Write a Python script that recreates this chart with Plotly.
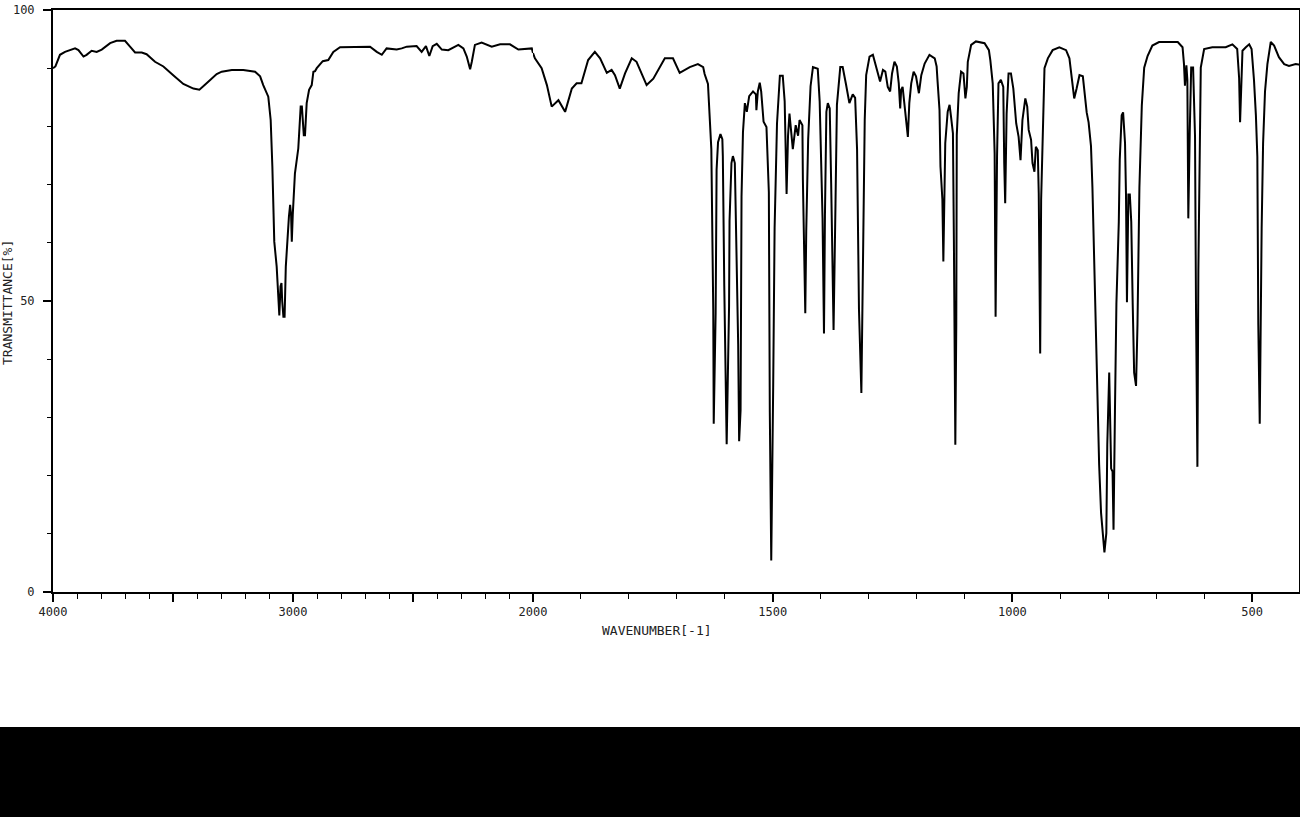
import plotly.graph_objects as go

# IR spectrum (wavenumber in cm-1, transmittance in %)
wavenumber = [
    4000, 3990, 3971, 3950, 3908, 3894, 3873, 3860, 3839, 3818, 3797, 3762, 3735, 3700,
    3679, 3658, 3630, 3610, 3575, 3540, 3499, 3457, 3415, 3390, 3360, 3318, 3297, 3255,
    3207, 3158, 3137, 3124, 3103, 3093, 3086, 3078, 3068, 3061, 3057, 3052, 3048, 3045,
    3040, 3035, 3030, 3017, 3012, 3008, 3005, 3001, 2992, 2978, 2968, 2963, 2955, 2950,
    2943, 2933, 2922, 2915, 2908, 2901, 2876, 2853, 2832, 2804, 2679, 2651, 2630, 2610,
    2568, 2547, 2526, 2485, 2464, 2446, 2432, 2418, 2401, 2380, 2353, 2311, 2290, 2276,
    2262, 2255, 2242, 2214, 2172, 2137, 2096, 2061, 2005, 2000,
    1996, 1982, 1971, 1961, 1947, 1933, 1919, 1909, 1899, 1885, 1871, 1860, 1846, 1836,
    1829, 1819, 1808, 1794, 1784, 1763, 1749, 1725, 1708, 1694, 1673, 1656, 1645, 1642,
    1635, 1631, 1628, 1624, 1623, 1619, 1617, 1614, 1609, 1605, 1604, 1601, 1596, 1591,
    1590, 1586, 1583, 1579, 1576, 1572, 1570, 1567, 1565, 1562, 1558, 1554, 1549, 1541,
    1535, 1534, 1531, 1527, 1524, 1519, 1513, 1508, 1506, 1503, 1499, 1496, 1491, 1485,
    1479, 1475, 1471, 1468, 1465, 1458, 1452, 1447, 1444, 1438, 1437, 1435, 1432, 1430,
    1426, 1421, 1416, 1406, 1402, 1396, 1393, 1391, 1388, 1385, 1381, 1378, 1373, 1369,
    1366, 1359, 1354, 1347, 1340, 1333, 1328, 1324, 1320, 1315, 1312, 1308, 1305, 1298,
    1291, 1285, 1281, 1276, 1270, 1265, 1260, 1255, 1251, 1246, 1241, 1237, 1234, 1232,
    1229, 1225, 1221, 1218, 1215, 1211, 1206, 1201, 1195, 1190, 1183, 1173, 1162, 1158,
    1156, 1152, 1150, 1146, 1144, 1140, 1135, 1131, 1128, 1124, 1122, 1119, 1117, 1116,
    1112, 1107, 1102, 1098, 1095, 1093, 1086, 1076, 1058, 1049, 1046, 1041, 1037, 1035,
    1032, 1029, 1024, 1019, 1017, 1015, 1012, 1008, 1003, 998, 992, 987, 983, 979,
    973, 969, 966, 961, 958, 954, 951, 947, 945, 942, 940, 937, 933, 926,
    916, 902, 888, 881, 874, 871, 866, 860, 853, 850, 845, 841, 836, 833,
    829, 826, 822, 819, 815, 810, 808, 804, 802, 798, 794, 791, 789, 786,
    783, 778, 776, 772, 769, 765, 763, 761, 758, 755, 752, 749, 746, 742,
    739, 735, 730, 725, 718, 708, 694, 673, 655, 645, 642, 640, 637, 635,
    633, 630, 627, 623, 619, 617, 614, 612, 609, 607, 600, 583, 555, 541,
    531, 527, 525, 522, 520, 513, 506, 501, 496, 492, 489, 487, 484, 480,
    477, 473, 468, 461, 454, 444, 433, 423, 409, 400,
]

transmittance = [
    90.0, 90.3, 92.3, 92.8, 93.4, 93.1, 92.0, 92.3, 93.0, 92.8, 93.2, 94.3, 94.7, 94.7,
    93.7, 92.7, 92.7, 92.4, 91.1, 90.3, 88.8, 87.3, 86.5, 86.3, 87.4, 89.0, 89.4, 89.7,
    89.7, 89.4, 88.6, 87.1, 85.1, 81.1, 73.1, 60.2, 55.9, 50.7, 47.5, 52.5, 53.1, 50.0,
    47.3, 47.3, 55.9, 64.5, 66.5, 64.8, 60.2, 64.8, 71.9, 76.2, 83.4, 83.4, 78.5, 78.5,
    84.0, 86.3, 87.1, 89.4, 89.5, 90.0, 91.2, 91.4, 92.8, 93.6, 93.7, 92.8, 92.3, 93.4,
    93.2, 93.4, 93.7, 93.8, 92.8, 93.8, 92.1, 93.8, 94.2, 93.2, 93.1, 94.0, 93.4, 92.0,
    89.8, 91.1, 94.0, 94.4, 93.7, 94.1, 94.1, 93.2, 93.4, 92.6,
    91.7, 90.0, 87.1, 83.4, 84.5, 82.5, 86.5, 87.4, 87.4, 91.4, 92.8, 91.7, 89.2, 89.7,
    88.8, 86.5, 89.1, 91.7, 91.1, 87.1, 88.2, 91.7, 91.7, 89.2, 90.2, 90.7, 90.2, 89.0,
    87.3, 80.9, 76.1, 48.5, 28.9, 47.9, 72.6, 77.3, 78.7, 77.8, 74.9, 52.6, 25.4, 49.1,
    63.8, 73.7, 74.9, 73.7, 60.8, 42.6, 25.9, 31.2, 67.9, 79.0, 84.0, 82.5, 85.2, 86.0,
    85.5, 82.8, 86.0, 87.5, 86.0, 80.8, 79.9, 68.7, 30.9, 5.4, 35.1, 62.6, 80.5, 88.7,
    88.7, 84.3, 68.4, 78.4, 82.2, 76.1, 80.2, 78.4, 81.1, 80.2, 70.8, 60.5, 47.9, 62.0,
    77.8, 86.9, 90.2, 89.9, 84.3, 64.3, 44.4, 64.6, 82.5, 84.0, 83.1, 70.2, 45.0, 66.7,
    83.7, 90.2, 90.2, 87.2, 84.0, 85.5, 84.9, 76.1, 48.5, 34.2, 58.8, 81.1, 88.8, 92.0,
    92.3, 90.5, 89.1, 87.7, 89.7, 89.4, 86.8, 86.0, 89.1, 91.1, 90.3, 87.4, 83.1, 86.3,
    86.8, 84.0, 80.5, 78.2, 84.0, 87.4, 89.4, 88.6, 85.7, 88.8, 90.8, 92.3, 91.7, 90.3,
    87.7, 82.8, 73.1, 67.4, 56.8, 77.1, 82.5, 83.7, 81.7, 78.8, 60.5, 25.3, 46.2, 78.5,
    85.7, 89.4, 89.1, 84.8, 86.8, 91.1, 94.0, 94.6, 94.3, 93.1, 91.4, 87.4, 75.4, 47.3,
    74.8, 87.4, 88.0, 86.8, 73.7, 66.8, 82.2, 89.1, 89.1, 86.5, 80.5, 78.2, 74.2, 81.1,
    84.8, 83.4, 79.4, 77.7, 73.7, 72.2, 76.5, 75.9, 68.5, 41.0, 67.4, 78.8, 90.0, 91.7,
    93.1, 93.6, 93.1, 91.7, 87.3, 84.8, 86.5, 88.8, 88.6, 86.3, 82.4, 80.7, 76.6, 69.5,
    56.0, 41.9, 33.4, 21.9, 13.6, 9.5, 6.8, 10.1, 25.4, 37.7, 21.2, 20.7, 10.7, 31.1,
    49.5, 63.6, 74.3, 81.9, 82.4, 77.1, 68.3, 49.8, 68.3, 68.3, 63.6, 49.5, 37.7, 35.4,
    46.0, 69.5, 83.6, 90.1, 92.1, 93.9, 94.5, 94.5, 94.5, 93.6, 90.7, 87.0, 90.5, 88.0,
    64.2, 78.9, 90.1, 90.1, 78.3, 49.5, 21.5, 55.4, 77.1, 90.1, 93.3, 93.6, 93.6, 94.1,
    93.3, 88.3, 80.7, 88.3, 93.0, 93.6, 94.1, 93.3, 88.0, 81.9, 74.8, 46.0, 28.9, 62.4,
    77.1, 86.0, 90.7, 94.5, 93.9, 91.9, 90.7, 90.4, 90.7, 90.6,
]

# Axis segments: the x scale doubles below 2000 cm-1
left_range = [4000, 2000]
right_range = [2000, 400]
left_tickvals = [4000, 3500, 3000, 2500]
left_ticktext = ["4000", "", "3000", ""]
right_tickvals = [2000, 1500, 1000, 500]
right_ticktext = ["2000", "1500", "1000", "500"]
y_tickvals = [0, 50, 100]
y_ticktext = ["0", "50", "100"]
x_title = "WAVENUMBER[-1]"
y_title = "TRANSMITTANCE[%]"

left_x = [w for w in wavenumber if w >= 2000]
left_y = [t for w, t in zip(wavenumber, transmittance) if w >= 2000]
right_x = [w for w in wavenumber if w <= 2000]
right_y = [t for w, t in zip(wavenumber, transmittance) if w <= 2000]

FONT = "DejaVu Sans Mono"
split = 480 / 1247

fig = go.Figure()
line_style = dict(color="black", width=2)
fig.add_trace(go.Scatter(x=left_x, y=left_y, mode="lines", line=line_style,
                         xaxis="x", yaxis="y", showlegend=False, hoverinfo="x+y"))
fig.add_trace(go.Scatter(x=right_x, y=right_y, mode="lines", line=line_style,
                         xaxis="x2", yaxis="y", showlegend=False, hoverinfo="x+y"))

axis_common = dict(
    showline=True, linecolor="black", linewidth=2, mirror=True,
    showgrid=False, zeroline=False, ticks="outside", ticklen=8, tickwidth=1.5,
    tickcolor="black", tickfont=dict(family=FONT, size=12, color="#222"),
    minor=dict(tickmode="linear", tick0=0, dtick=100, ticks="outside", ticklen=5,
               tickwidth=1.2, tickcolor="black", showgrid=False),
)

fig.update_layout(
    width=1300, height=817,
    margin=dict(l=53, r=0, t=10, b=225),
    paper_bgcolor="white", plot_bgcolor="white",
    xaxis=dict(domain=[0, split], range=left_range, tickmode="array",
               tickvals=left_tickvals, ticktext=left_ticktext, anchor="y",
               **axis_common),
    xaxis2=dict(domain=[split, 1], range=right_range, tickmode="array",
                tickvals=right_tickvals, ticktext=right_ticktext, anchor="y",
                **axis_common),
    yaxis=dict(range=[0, 100], domain=[0, 1], anchor="x", tickmode="array",
               tickvals=y_tickvals, ticktext=y_ticktext,
               showline=True, linecolor="black", linewidth=2,
               showgrid=False, zeroline=False, ticks="outside", ticklen=8,
               tickwidth=1.5, tickcolor="black", ticklabelstandoff=6,
               tickfont=dict(family=FONT, size=12, color="#222"),
               minor=dict(tickmode="linear", tick0=0, dtick=10, ticks="outside",
                          ticklen=4, tickwidth=1.2, tickcolor="black", showgrid=False)),
    annotations=[
        dict(text=x_title, xref="paper", yref="paper", x=(657 - 53) / 1247,
             y=(592 - 630) / 582, showarrow=False, xanchor="center", yanchor="middle",
             font=dict(family=FONT, size=13, color="#222")),
        dict(text=y_title, xref="paper", yref="paper", x=(7 - 53) / 1247,
             y=(592 - 303) / 582, showarrow=False, xanchor="center", yanchor="middle",
             textangle=-90, font=dict(family=FONT, size=13, color="#222")),
    ],
    shapes=[
        dict(type="line", xref="paper", yref="paper", x0=1, x1=1, y0=0, y1=1,
             line=dict(color="black", width=2)),
        dict(type="rect", xref="paper", yref="paper", x0=-0.05, x1=1.01,
             y0=(592 - 817) / 582 - 0.02, y1=(592 - 727) / 582,
             fillcolor="black", line=dict(width=0), layer="below"),
    ],
)

fig.write_html(
    "out.html",
    config={"displayModeBar": False},
    post_script="document.body.style.margin='0';document.body.style.overflow='hidden';",
)
